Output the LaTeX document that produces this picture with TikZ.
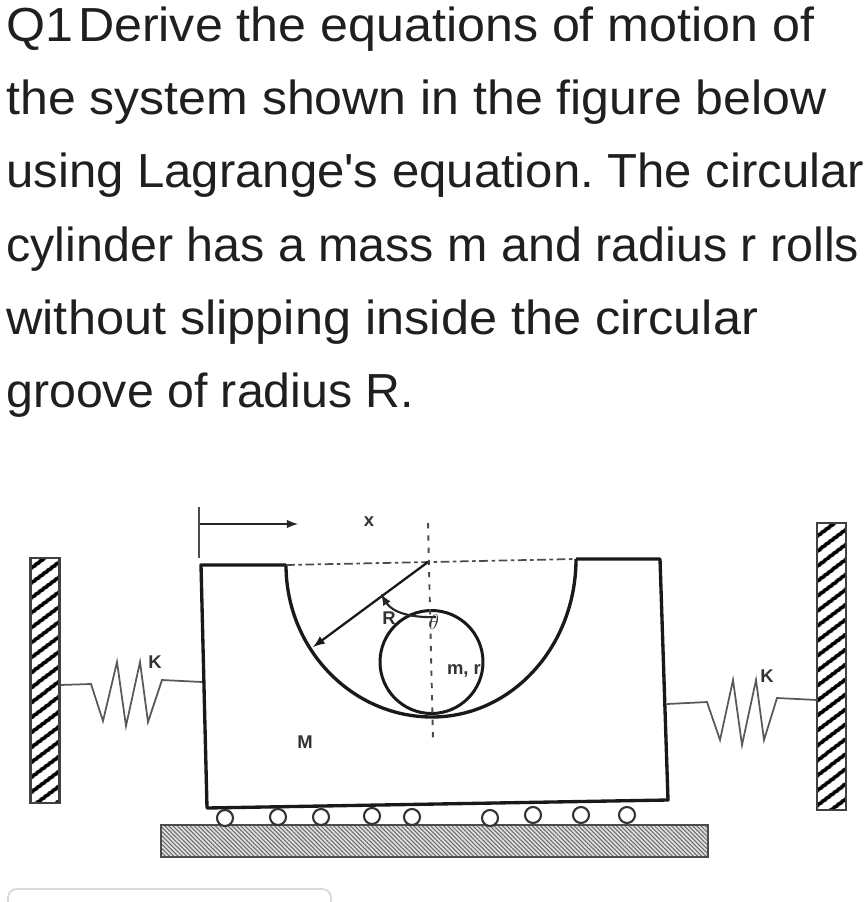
\documentclass[tikz,border=0pt]{standalone}
\usepackage{fontspec}
\setmainfont{Liberation Sans}
\usetikzlibrary{arrows,patterns.meta}
\frenchspacing
\tikzset{
 qline/.style={anchor=base west,inner sep=0pt,font=\fontsize{27.2}{30}\selectfont,text=black!88},
 tag/.style={inner sep=0pt,font=\fontsize{10.5}{12}\bfseries\selectfont,text=black!80},
 wall/.style={draw=black!75,line width=1.2pt,minimum width=0.58cm,inner sep=0pt,
  pattern={Lines[angle=37,distance=6.4pt,line width=2.3pt]}},
 roller/.style={circle,draw=black!80,fill=white,line width=1.2pt,minimum size=0.32cm,inner sep=0pt},
 body/.style={line width=1.9pt,black!90},
 spring/.style={line width=1pt,black!65,line join=miter},
 centerline/.style={line width=1pt,black!70,dash pattern=on 5pt off 2pt on 2pt off 2pt}
}
\begin{document}
\begin{tikzpicture}[x=0.02cm,y=-0.02cm,>=latex]
 \useasboundingbox (0,0) rectangle (865,902);
 \node (Q1) [qline] at (6,42) {\scalebox{1.05}[1]{Q1\kern-5pt\ Derive the equations of motion of}};
 \node (Q2) [qline] at (6,115) {\scalebox{1.047}[1]{the system shown in the figure below}};
 \node (Q3) [qline] at (6,188) {\scalebox{1.027}[1]{using Lagrange\XeTeXglyph\XeTeXcharglyph"0027 s equation. The circular}};
 \node (Q4) [qline] at (6,261) {\scalebox{1.013}[1]{cylinder has a mass m and radius r rolls}};
 \node (Q5) [qline] at (6,334) {\scalebox{1.056}[1]{without slipping inside the circular}};
 \node (Q6) [qline] at (6,407) {\scalebox{1.01}[1]{groove of radius R.}};

 \node (wallL) [wall,minimum height=4.9cm] at (45,680.5) {};
 \node (wallR) [wall,minimum height=5.74cm] at (831.5,666.5) {};
 \node (ground) [draw=black!70,line width=0.9pt,minimum width=10.94cm,minimum height=0.64cm,inner sep=0pt,
  preaction={fill=black!12},pattern={Lines[angle=-45,distance=1.7pt,line width=0.6pt]},pattern color=black!58] at (434.5,841) {};

 \coordinate (grooveL) at (286,565);
 \coordinate (grooveR) at (576,559);
 \coordinate (O) at (428,562);
 \coordinate (bottom) at (432,717);
 \foreach \name/\px/\py in {r1/225/818,r2/278/817,r3/321/817,r4/372/816,r5/412/817,r6/490/818,r7/533/815,r8/581/815,r9/627/815}
  \node (\name) [roller] at (\px,\py) {};
 \draw[body,line join=round] (grooveL) -- (201,565) -- (207,808) -- (668,800) -- (660,559) -- (grooveR);
 \draw[body] (grooveL) .. controls (286,649) and (352,717) .. (bottom)
  .. controls (512,717) and (576,646) .. (grooveR);
 \node (cyl) [circle,draw=black!90,line width=1.7pt,minimum size=2.06cm,inner sep=0pt] at (431.5,662) {};

 \coordinate (x0) at (199,507);
 \coordinate (x1) at (199,558);
 \coordinate (xs) at (200,524);
 \coordinate (xe) at (298,524);
 \draw[line width=1pt,black!70] (x0) -- (x1);
 \draw[->,line width=1.2pt,black!85] (xs) -- (xe);
 \node (x) [tag] at (369,522) {x};

 \coordinate (vtop) at (428,523);
 \coordinate (vbot) at (433,740);
 \draw[centerline] (grooveL) -- (grooveR);
 \draw[centerline,line width=1.1pt,dash pattern=on 3pt off 4pt] (vtop) -- (vbot);

 \coordinate (Rend) at (313,647);
 \coordinate (Rth) at (381,594);
 \coordinate (thend) at (436,617);
 \draw[->,line width=1.3pt,black!90] (O) -- (Rend);
 \draw[<-,line width=1.2pt,black!85] (Rth) .. controls (392,612) and (410,618) .. (thend);
 \node (R) [tag] at (389,618) {R};
 \node (th) [tag,font=\fontsize{13}{14}\selectfont] at (434,622) {$\theta$};
 \node (mr) [tag] at (464,671) {m, r};
 \node (M) [tag] at (305,742) {M};

 \coordinate (sl0) at (60,685);
 \coordinate (sl1) at (202,682);
 \draw[spring] (sl0) -- (91,684) -- (103,721) -- (117,662) -- (126,726) -- (140,662) -- (148,722) -- (162,680) -- (sl1);
 \node (KL) [tag] at (155,662) {K};

 \coordinate (sr0) at (667,704);
 \coordinate (sr1) at (817,700);
 \draw[spring] (sr0) -- (707,702) -- (720,740) -- (733,680) -- (742,745) -- (756,680) -- (764,740) -- (777,698) -- (sr1);
 \node (KR) [tag] at (767,676) {K};

 \coordinate (boxL) at (8,910);
 \coordinate (boxR) at (331,910);
 \draw[black!15,line width=1pt,rounded corners=5pt] (boxL) -- (8,889) -- (331,889) -- (boxR);
\end{tikzpicture}
\end{document}
